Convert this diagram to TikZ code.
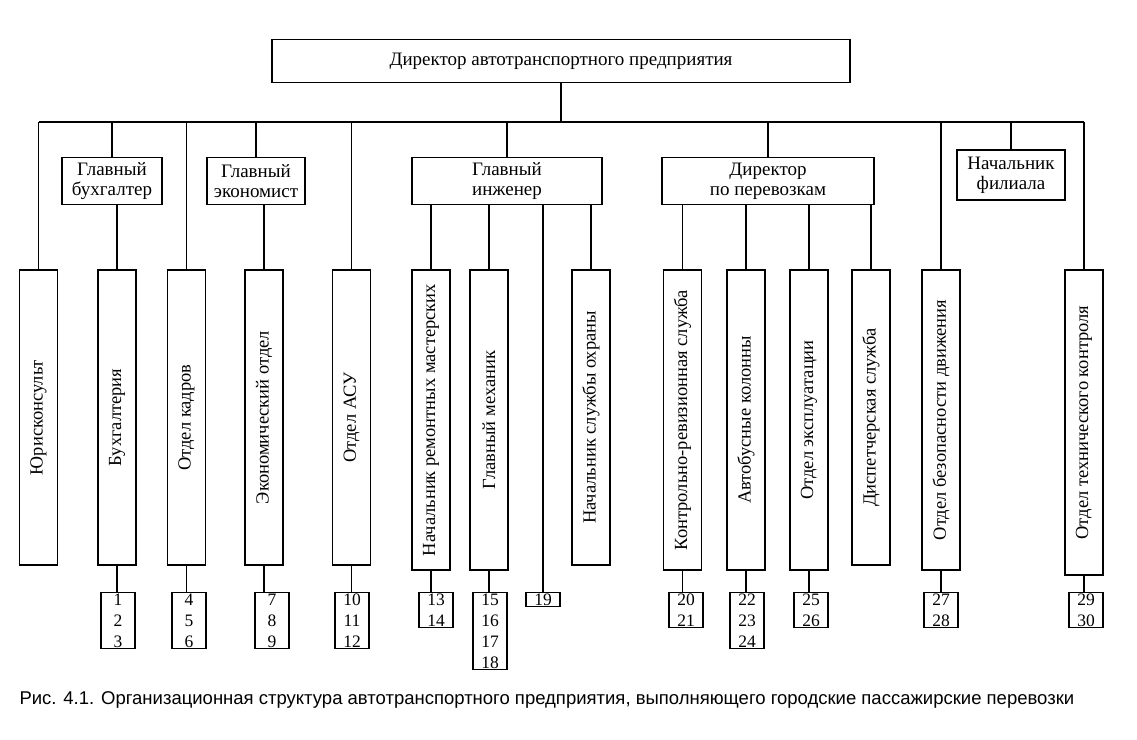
\documentclass[tikz,border=0pt]{standalone}
\usepackage{fontspec}
\setmainfont{Liberation Serif}
\newfontfamily\capfont{Liberation Sans}
\usetikzlibrary{positioning}
\tikzset{
  hbox/.style={draw, line width=1.3pt, align=center, inner sep=1pt, font=\fontsize{19}{20}\selectfont},
  vbox/.style={draw, line width=1.3pt, rotate=90, minimum height=38pt, inner sep=0pt, font=\fontsize{18.5}{20}\selectfont},
  numbox/.style={draw, line width=1.3pt, align=center, inner sep=1pt, minimum width=34pt, font=\fontsize{17.5}{21}\selectfont},
  link/.style={line width=1.3pt}
}
\begin{document}
\begin{tikzpicture}[x=1pt,y=-1pt]
\useasboundingbox (0,0) rectangle (1137,739);
\coordinate (bus) at (0,122);
% Top
\node[hbox, minimum width=578pt, minimum height=43pt] (dir) at (561,61) {Директор автотранспортного предприятия};
% Middle level
\node[hbox, minimum width=100pt, minimum height=47pt] (buh) at (112,181) {Главный\\бухгалтер};
\node[hbox, minimum width=98pt, minimum height=47pt] (eko) at (256,181) {Главный\\экономист};
\node[hbox, minimum width=190pt, minimum height=47pt] (ing) at (507,181) {Главный\\инженер};
\node[hbox, minimum width=212pt, minimum height=47pt] (per) at (768,181) {Директор\\по перевозкам};
\node[hbox, minimum width=108pt, minimum height=50pt] (fil) at (1011,175) {Начальник\\филиала};
% Bottom level
\node[vbox, minimum width=295pt] (jur) at (38.5,417.5) {Юрисконсульт};
\node[vbox, minimum width=295pt] (bux) at (117,417.5) {Бухгалтерия};
\node[vbox, minimum width=295pt] (kad) at (186.5,417.5) {Отдел кадров};
\node[vbox, minimum width=295pt] (eot) at (264,417.5) {Экономический отдел};
\node[vbox, minimum width=295pt] (asu) at (351.5,417.5) {Отдел АСУ};
\node[vbox, minimum width=300pt] (rem) at (431,420) {Начальник ремонтных мастерских};
\node[vbox, minimum width=300pt] (mex) at (489,420) {Главный механик};
\node[vbox, minimum width=295pt] (oxr) at (591,417.5) {Начальник службы охраны};
\node[vbox, minimum width=300pt] (krs) at (682.5,420) {Контрольно-ревизионная служба};
\node[vbox, minimum width=300pt] (avt) at (746,420) {Автобусные колонны};
\node[vbox, minimum width=300pt] (exp) at (809,420) {Отдел эксплуатации};
\node[vbox, minimum width=295pt] (dsp) at (871,417.5) {Диспетчерская служба};
\node[vbox, minimum width=300pt] (bez) at (941,420) {Отдел безопасности движения};
\node[vbox, minimum width=305pt] (otk) at (1084,422.5) {Отдел технического контроля};
% Numbers
\node[numbox, anchor=north] (n1) at (118,592) {1\\2\\3};
\node[numbox, anchor=north] (n4) at (189,592) {4\\5\\6};
\node[numbox, anchor=north] (n7) at (272,592) {7\\8\\9};
\node[numbox, anchor=north] (n10) at (352,592) {10\\11\\12};
\node[numbox, anchor=north] (n13) at (436,592) {13\\14};
\node[numbox, anchor=north] (n15) at (490,592) {15\\16\\17\\18};
\node[numbox, anchor=north] (n19) at (543,592) {19};
\node[numbox, anchor=north] (n20) at (686,592) {20\\21};
\node[numbox, anchor=north] (n22) at (747,592) {22\\23\\24};
\node[numbox, anchor=north] (n25) at (811,592) {25\\26};
\node[numbox, anchor=north] (n27) at (941,592) {27\\28};
\node[numbox, anchor=north] (n29) at (1086,592) {29\\30};
% Bus
\draw[link] (dir.south) -- (dir.south |- bus);
\draw[link] (jur.east |- bus) -- (otk.east |- bus);
\foreach \n in {jur,kad,asu,bez,otk}
  \draw[link] (\n.east) -- (\n.east |- bus);
\foreach \n in {buh,eko,ing,per,fil}
  \draw[link] (\n.north) -- (\n.north |- bus);
% Subordinates
\draw[link] (buh.south -| bux.east) -- (bux.east);
\draw[link] (eko.south -| eot.east) -- (eot.east);
\foreach \n in {rem,mex,oxr}
  \draw[link] (ing.south -| \n.east) -- (\n.east);
\draw[link] (ing.south -| n19.north) -- (n19.north);
\foreach \n in {krs,avt,exp,dsp}
  \draw[link] (per.south -| \n.east) -- (\n.east);
% Number links
\foreach \a/\b in {bux/n1,kad/n4,eot/n7,asu/n10,rem/n13,mex/n15,krs/n20,avt/n22,exp/n25,bez/n27,otk/n29}
  \draw[link] (\a.west) -- (\a.west |- \b.north);
% Caption
\node[anchor=west, font=\capfont\fontsize{18.5}{20}\selectfont] (cap) at (16,700)
  {Рис. 4.1. Организационная структура автотранспортного предприятия, выполняющего городские пассажирские перевозки};
\end{tikzpicture}
\end{document}
